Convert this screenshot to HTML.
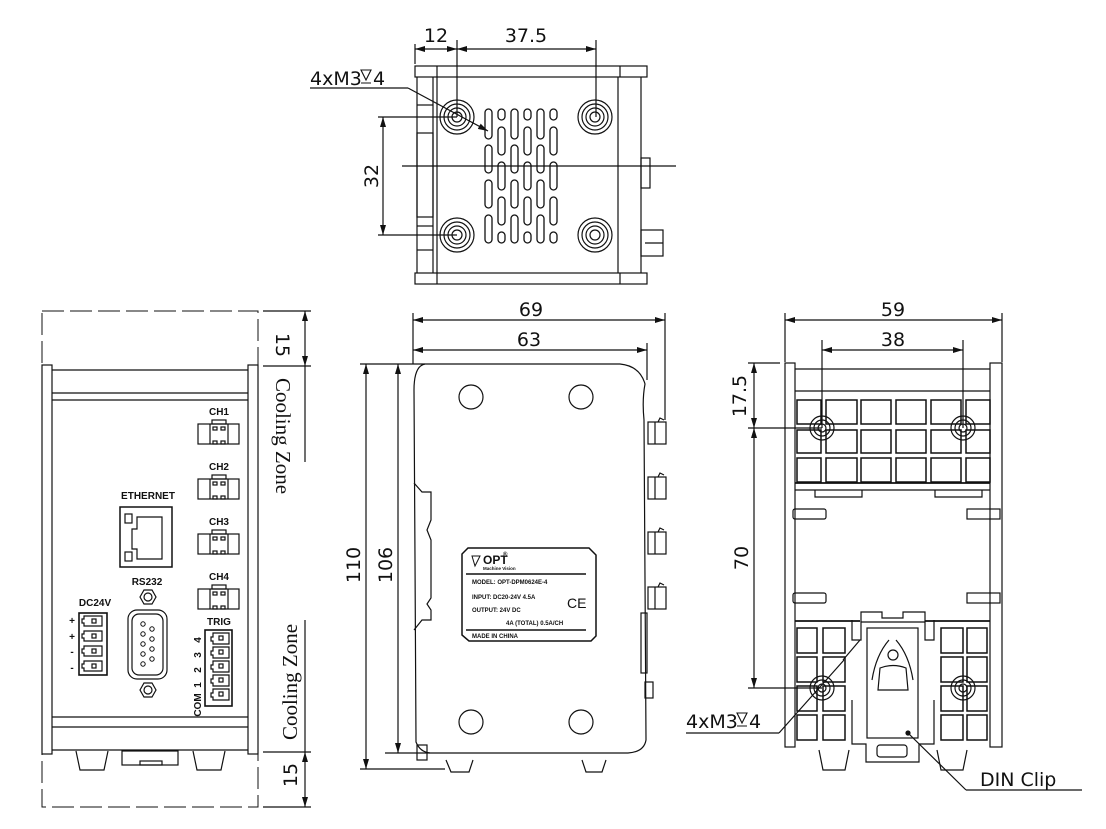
<!DOCTYPE html>
<html><head><meta charset="utf-8"><style>
html,body{margin:0;padding:0;background:#fff;width:1106px;height:829px;overflow:hidden}
svg{display:block}
.d{font-family:"DejaVu Sans","Liberation Sans",sans-serif;font-size:19px;fill:#111}
.s{font-family:"Liberation Sans",sans-serif;font-weight:bold;fill:#111}
.c{font-family:"Liberation Serif",serif;font-size:21px;fill:#111}
</style></head><body>
<svg width="1106" height="829" viewBox="0 0 1106 829" xmlns="http://www.w3.org/2000/svg" fill="none" stroke="#111" stroke-width="1.2">
<defs>
<marker id="a" viewBox="0 0 10 6" refX="10" refY="3" markerWidth="10" markerHeight="6" orient="auto-start-reverse" markerUnits="userSpaceOnUse"><path d="M0,0 L10,3 L0,6z" fill="#111" stroke="none"/></marker>
</defs>

<!-- ================= TOP VIEW ================= -->
<g>
<rect x="415" y="66" width="232" height="11" />
<rect x="415" y="273" width="232" height="11" />
<line x1="437" y1="66" x2="437" y2="77"/><line x1="620" y1="66" x2="620" y2="77"/>
<line x1="437" y1="273" x2="437" y2="284"/><line x1="620" y1="273" x2="620" y2="284"/>
<line x1="417" y1="77" x2="417" y2="273"/>
<line x1="433" y1="77" x2="433" y2="273"/>
<line x1="437" y1="77" x2="437" y2="273"/>
<line x1="618" y1="77" x2="618" y2="273"/>
<line x1="641" y1="77" x2="641" y2="273"/>
<rect x="417" y="133" width="16" height="84"/>
<line x1="417" y1="105" x2="433" y2="105"/><line x1="417" y1="226" x2="433" y2="226"/><line x1="417" y1="250" x2="433" y2="250"/>
<rect x="641" y="158" width="9" height="30"/>
<rect x="641" y="230" width="22" height="26"/><line x1="645" y1="243" x2="663" y2="243"/>
<g id="h"><circle cx="457" cy="117" r="17"/><circle cx="457" cy="117" r="13"/><circle cx="457" cy="117" r="9"/><circle cx="457" cy="117" r="5"/></g>
<use href="#h" x="138"/><use href="#h" y="118"/><use href="#h" x="138" y="118"/>
<g stroke-width="1.3">
<rect x="485" y="109" width="7" height="30" rx="3.5"/><rect x="485" y="145" width="7" height="28" rx="3.5"/><rect x="485" y="180" width="7" height="28" rx="3.5"/><rect x="485" y="215" width="7" height="28" rx="3.5"/>
<rect x="498" y="109" width="7" height="11" rx="3.5"/><rect x="498" y="127" width="7" height="28" rx="3.5"/><rect x="498" y="162" width="7" height="28" rx="3.5"/><rect x="498" y="197" width="7" height="28" rx="3.5"/><rect x="498" y="232" width="7" height="11" rx="3.5"/>
<rect x="511" y="109" width="7" height="30" rx="3.5"/><rect x="511" y="145" width="7" height="28" rx="3.5"/><rect x="511" y="180" width="7" height="28" rx="3.5"/><rect x="511" y="215" width="7" height="28" rx="3.5"/>
<rect x="524" y="109" width="7" height="11" rx="3.5"/><rect x="524" y="127" width="7" height="28" rx="3.5"/><rect x="524" y="162" width="7" height="28" rx="3.5"/><rect x="524" y="197" width="7" height="28" rx="3.5"/><rect x="524" y="232" width="7" height="11" rx="3.5"/>
<rect x="537" y="109" width="7" height="30" rx="3.5"/><rect x="537" y="145" width="7" height="28" rx="3.5"/><rect x="537" y="180" width="7" height="28" rx="3.5"/><rect x="537" y="215" width="7" height="28" rx="3.5"/>
<rect x="550" y="109" width="7" height="11" rx="3.5"/><rect x="550" y="127" width="7" height="28" rx="3.5"/><rect x="550" y="162" width="7" height="28" rx="3.5"/><rect x="550" y="197" width="7" height="28" rx="3.5"/><rect x="550" y="232" width="7" height="11" rx="3.5"/>
</g>
<line x1="402" y1="166" x2="676" y2="166"/>
<line x1="415" y1="44" x2="415" y2="64"/><line x1="457" y1="40" x2="457" y2="117"/><line x1="596" y1="40" x2="596" y2="117"/>
<line x1="415" y1="49" x2="457" y2="49" marker-start="url(#a)" marker-end="url(#a)"/>
<line x1="457" y1="49" x2="596" y2="49" marker-start="url(#a)" marker-end="url(#a)"/>
<text class="d" x="436" y="42" text-anchor="middle" stroke="none">12</text>
<text class="d" x="526" y="42" text-anchor="middle" stroke="none">37.5</text>
<line x1="378" y1="117" x2="457" y2="117"/><line x1="378" y1="235" x2="457" y2="235"/>
<line x1="383" y1="117" x2="383" y2="235" marker-start="url(#a)" marker-end="url(#a)"/>
<text class="d" transform="translate(378,176) rotate(-90)" text-anchor="middle" stroke="none">32</text>
<text class="d" x="310" y="85" stroke="none">4xM3</text>
<path d="M361,70 L371,70 L366,80z M361,83 L371,83" stroke-width="1.1"/>
<text class="d" x="373" y="85" stroke="none">4</text>
<line x1="310" y1="88" x2="408" y2="88"/><line x1="408" y1="88" x2="488" y2="131" marker-end="url(#a)"/>
</g>

<!-- ================= FRONT VIEW ================= -->
<g>
<rect x="42" y="311" width="216" height="496" stroke-dasharray="22,6" stroke-width="1"/>
<rect x="42" y="365" width="10" height="389" fill="#fff"/>
<rect x="248" y="365" width="10" height="389" fill="#fff"/>
<line x1="52" y1="370" x2="248" y2="370"/><line x1="52" y1="393" x2="248" y2="393"/><line x1="52" y1="400" x2="248" y2="400"/>
<line x1="52" y1="717" x2="248" y2="717"/><line x1="52" y1="727" x2="248" y2="727"/><line x1="52" y1="750" x2="248" y2="750"/>
<path d="M76,751 L80,770 L104,770 L108,751"/><path d="M193,751 L197,770 L221,770 L225,751"/>
<rect x="122" y="751" width="56" height="14"/><rect x="140" y="761" width="22" height="4"/>
<g id="ch"><rect x="198" y="424" width="41" height="20"/><line x1="210" y1="424" x2="210" y2="444"/><line x1="228" y1="424" x2="228" y2="444"/><rect x="212" y="420" width="14" height="4"/><rect x="213" y="427" width="4" height="3"/><rect x="221" y="427" width="4" height="3"/><rect x="213" y="441" width="4" height="3"/><rect x="221" y="441" width="4" height="3"/></g>
<use href="#ch" y="55"/><use href="#ch" y="110"/><use href="#ch" y="165"/>
<text class="s" x="219" y="415" font-size="10" text-anchor="middle" stroke="none">CH1</text>
<text class="s" x="219" y="470" font-size="10" text-anchor="middle" stroke="none">CH2</text>
<text class="s" x="219" y="525" font-size="10" text-anchor="middle" stroke="none">CH3</text>
<text class="s" x="219" y="580" font-size="10" text-anchor="middle" stroke="none">CH4</text>
<text class="s" x="148" y="499" font-size="10" text-anchor="middle" stroke="none">ETHERNET</text>
<rect x="120" y="507" width="52" height="60" stroke-width="1.5"/>
<path d="M137,517 L162,517 L162,559 L137,559 L137,549 L132,549 L132,529 L137,529z"/>
<rect x="125" y="514" width="7" height="9"/><rect x="125" y="552" width="7" height="9"/>
<text class="s" x="147" y="585" font-size="10" text-anchor="middle" stroke="none">RS232</text>
<polygon points="140,597 144,590 152,590 156,597 152,604 144,604"/><circle cx="148" cy="597" r="4"/>
<polygon points="140,690 144,683 152,683 156,690 152,697 144,697"/><circle cx="148" cy="690" r="4"/>
<rect x="128" y="610" width="39" height="69" rx="9"/><rect x="132" y="614" width="31" height="61" rx="7"/>
<g stroke-width="1"><circle cx="143" cy="624" r="2.2"/><circle cx="143" cy="634" r="2.2"/><circle cx="143" cy="644" r="2.2"/><circle cx="143" cy="654" r="2.2"/><circle cx="143" cy="664" r="2.2"/><circle cx="152" cy="629" r="2.2"/><circle cx="152" cy="639" r="2.2"/><circle cx="152" cy="649" r="2.2"/><circle cx="152" cy="659" r="2.2"/></g>
<text class="s" x="95" y="606" font-size="10" text-anchor="middle" stroke="none">DC24V</text>
<rect x="79" y="613" width="28" height="62" stroke-width="1.6"/>
<g id="pin"><path d="M84,616 L102,616 L102,626 L84,626 L84,623 L82,623 L82,619 L84,619z"/><rect x="92" y="619" width="4" height="4"/></g>
<use href="#pin" y="15"/><use href="#pin" y="30"/><use href="#pin" y="45"/>
<text class="s" x="72" y="624" font-size="10" text-anchor="middle" stroke="none">+</text>
<text class="s" x="72" y="640" font-size="10" text-anchor="middle" stroke="none">+</text>
<text class="s" x="72" y="655" font-size="10" text-anchor="middle" stroke="none">-</text>
<text class="s" x="72" y="671" font-size="10" text-anchor="middle" stroke="none">-</text>
<text class="s" x="219" y="625" font-size="10" text-anchor="middle" stroke="none">TRIG</text>
<rect x="205" y="630" width="27" height="76" stroke-width="1.6"/>
<g id="tp"><path d="M213,633 L229,633 L229,644 L213,644 L213,641 L211,641 L211,637 L213,637z"/><rect x="219" y="636" width="4" height="4"/></g>
<use href="#tp" y="14"/><use href="#tp" y="28"/><use href="#tp" y="42"/><use href="#tp" y="56"/>
<g class="s" font-size="10" stroke="none">
<text transform="translate(201,640) rotate(-90)" text-anchor="middle">4</text>
<text transform="translate(201,655) rotate(-90)" text-anchor="middle">3</text>
<text transform="translate(201,670) rotate(-90)" text-anchor="middle">2</text>
<text transform="translate(201,685) rotate(-90)" text-anchor="middle">1</text>
<text transform="translate(201,705) rotate(-90)" text-anchor="middle">COM</text>
</g>
<line x1="263" y1="311" x2="311" y2="311"/><line x1="263" y1="366" x2="311" y2="366"/>
<line x1="305" y1="311" x2="305" y2="366" marker-start="url(#a)" marker-end="url(#a)"/>
<line x1="305" y1="366" x2="305" y2="462"/>
<line x1="263" y1="752" x2="311" y2="752"/><line x1="263" y1="807" x2="311" y2="807"/>
<line x1="305" y1="752" x2="305" y2="807" marker-start="url(#a)" marker-end="url(#a)"/>
<line x1="305" y1="620" x2="305" y2="752"/>
<text class="d" transform="translate(276,345) rotate(90)" text-anchor="middle" stroke="none">15</text>
<text class="d" transform="translate(297,775) rotate(-90)" text-anchor="middle" stroke="none">15</text>
<text class="c" transform="translate(276,436) rotate(90)" text-anchor="middle" stroke="none">Cooling Zone</text>
<text class="c" transform="translate(297,682) rotate(-90)" text-anchor="middle" stroke="none">Cooling Zone</text>
</g>

<!-- ================= SIDE VIEW ================= -->
<g>
<path d="M425,364 L620,364 Q640,366 645,384 Q642,400 644,420 L646,740 Q644,752 628,753 L430,753 Q420,752 416,742 L415,560 L414,390 Q414,366 425,364z"/>
<path d="M414,483 L422,492 L431,492 L431,520 L427,530 L431,540 L431,598 L427,604 L431,610 L431,620 L422,620 L414,630"/>
<rect x="417" y="745" width="10" height="15"/>
<circle cx="471" cy="397" r="12"/><circle cx="581" cy="397" r="12"/><circle cx="471" cy="722" r="12"/><circle cx="581" cy="722" r="12"/>
<path d="M446,760 L451,772 L469,772 L473,760"/><path d="M582,760 L586,772 L602,772 L606,760"/>
<g id="rc"><rect x="648" y="422" width="18" height="22"/><line x1="655" y1="422" x2="655" y2="444"/><path d="M658,422 L660,418 L664,420"/></g>
<use href="#rc" y="55"/><use href="#rc" y="110"/><use href="#rc" y="165"/>
<rect x="641" y="613" width="6" height="60"/><rect x="645" y="682" width="8" height="16"/>
<path d="M468,548 L589,548 L596,555 L596,636 L591,641 L469,641 L462,635 L462,554z" stroke-width="1.5"/>
<line x1="466" y1="574" x2="586" y2="574" stroke-width="1.5"/><line x1="466" y1="630" x2="586" y2="630" stroke-width="1.5"/>
<path d="M472,556 L480,556 L475,566z" stroke-width="1"/>
<text class="s" x="483" y="564" font-size="12" stroke="none" font-weight="normal">OPT</text>
<text class="s" x="503" y="556" font-size="6" stroke="none">®</text>
<text class="s" x="483" y="570" font-size="4.5" stroke="none">Machine Vision</text>
<g class="s" font-size="6" stroke="none">
<text x="472" y="584">MODEL: OPT-DPM0624E-4</text>
<text x="472" y="599">INPUT: DC20-24V  4.5A</text>
<text x="472" y="612">OUTPUT: 24V DC</text>
<text x="506" y="625">4A (TOTAL)  0.5A/CH</text>
<text x="472" y="638">MADE IN CHINA</text>
</g>
<text x="567" y="608" font-family="Liberation Sans,sans-serif" font-size="14" fill="#111" stroke="none">CE</text>
<line x1="413" y1="313" x2="413" y2="364"/><line x1="665" y1="313" x2="665" y2="420"/><line x1="647" y1="343" x2="647" y2="380"/>
<line x1="413" y1="320" x2="665" y2="320" marker-start="url(#a)" marker-end="url(#a)"/>
<line x1="413" y1="350" x2="647" y2="350" marker-start="url(#a)" marker-end="url(#a)"/>
<text class="d" x="531" y="316" text-anchor="middle" stroke="none">69</text>
<text class="d" x="529" y="346" text-anchor="middle" stroke="none">63</text>
<line x1="360" y1="364" x2="425" y2="364"/><line x1="360" y1="769" x2="445" y2="769"/><line x1="385" y1="753" x2="430" y2="753"/>
<line x1="366" y1="364" x2="366" y2="769" marker-start="url(#a)" marker-end="url(#a)"/>
<line x1="398" y1="364" x2="398" y2="753" marker-start="url(#a)" marker-end="url(#a)"/>
<text class="d" transform="translate(360,565) rotate(-90)" text-anchor="middle" stroke="none">110</text>
<text class="d" transform="translate(392,565) rotate(-90)" text-anchor="middle" stroke="none">106</text>
</g>

<!-- ================= RIGHT VIEW ================= -->
<g>
<rect x="785" y="363" width="10" height="384"/><rect x="990" y="363" width="12" height="384"/>
<line x1="795" y1="369" x2="990" y2="369"/><line x1="795" y1="391" x2="990" y2="391"/>
<line x1="795" y1="483" x2="990" y2="483" stroke-width="1.8"/><line x1="795" y1="490" x2="990" y2="490"/>
<path d="M815,490 L815,497 L862,497 L862,490"/><path d="M935,490 L935,497 L982,497 L982,490"/>
<g stroke-width="1.5">
<rect x="797" y="400" width="24" height="24"/><rect x="826" y="400" width="31" height="24"/><rect x="861" y="400" width="30" height="24"/><rect x="896" y="400" width="30" height="24"/><rect x="931" y="400" width="30" height="24"/><rect x="966" y="400" width="24" height="24"/>
<rect x="797" y="430" width="24" height="23"/><rect x="826" y="430" width="31" height="23"/><rect x="861" y="430" width="30" height="23"/><rect x="896" y="430" width="30" height="23"/><rect x="931" y="430" width="30" height="23"/><rect x="966" y="430" width="24" height="23"/>
<rect x="797" y="458" width="24" height="24"/><rect x="826" y="458" width="31" height="24"/><rect x="861" y="458" width="30" height="24"/><rect x="896" y="458" width="30" height="24"/><rect x="931" y="458" width="30" height="24"/><rect x="966" y="458" width="24" height="24"/>
</g>
<rect x="793" y="509" width="33" height="10" rx="2"/><rect x="967" y="509" width="33" height="10"/>
<rect x="793" y="593" width="33" height="10" rx="2"/><rect x="967" y="593" width="33" height="10"/>
<line x1="795" y1="621" x2="860" y2="621" stroke-width="1.8"/><line x1="925" y1="621" x2="990" y2="621" stroke-width="1.8"/>
<g stroke-width="1.5">
<rect x="797" y="628" width="20" height="25"/><rect x="823" y="628" width="22" height="25"/>
<rect x="797" y="657" width="20" height="25"/><rect x="823" y="657" width="22" height="25"/>
<rect x="797" y="686" width="20" height="25"/><rect x="823" y="686" width="22" height="25"/>
<rect x="797" y="715" width="20" height="25"/><rect x="823" y="715" width="22" height="25"/>
<rect x="941" y="628" width="22" height="25"/><rect x="967" y="628" width="20" height="25"/>
<rect x="941" y="657" width="22" height="25"/><rect x="967" y="657" width="20" height="25"/>
<rect x="941" y="686" width="22" height="25"/><rect x="967" y="686" width="20" height="25"/>
<rect x="941" y="715" width="22" height="25"/><rect x="967" y="715" width="20" height="25"/>
</g>
<path d="M861,622 L861,612 L882,612 L882,618 L903,618 L903,612 L925,612 L925,622" fill="#fff"/>
<path d="M852,620 L852,640 L861,640 L861,622 L925,622 L925,640 L934,640 L934,620"/>
<path d="M852,700 L852,744 L866,744 L866,762 L919,762 L919,744 L934,744 L934,700"/>
<rect x="867" y="628" width="51" height="110"/>
<path d="M872,680 Q876,655 889,640 M913,680 Q909,655 896,640"/>
<circle cx="893" cy="655" r="5"/><path d="M878,690 L908,690 L906,668 Q893,663 880,668z"/>
<rect x="877" y="745" width="30" height="12" rx="3"/>
<circle cx="908" cy="733" r="2" fill="#111"/>
<path d="M819,750 L823,770 L845,770 L849,750"/><path d="M937,750 L941,770 L963,770 L967,750"/>
<g id="rh"><circle cx="822" cy="428" r="12"/><circle cx="822" cy="428" r="8"/><circle cx="822" cy="428" r="4"/></g>
<use href="#rh" x="141"/><use href="#rh" y="260"/><use href="#rh" x="141" y="260"/>
<line x1="785" y1="313" x2="785" y2="362"/><line x1="1002" y1="313" x2="1002" y2="362"/>
<line x1="785" y1="320" x2="1002" y2="320" marker-start="url(#a)" marker-end="url(#a)"/>
<line x1="822" y1="340" x2="822" y2="428"/><line x1="963" y1="340" x2="963" y2="428"/>
<line x1="822" y1="350" x2="963" y2="350" marker-start="url(#a)" marker-end="url(#a)"/>
<text class="d" x="893" y="316" text-anchor="middle" stroke="none">59</text>
<text class="d" x="893" y="346" text-anchor="middle" stroke="none">38</text>
<line x1="748" y1="363" x2="780" y2="363"/><line x1="748" y1="428" x2="822" y2="428"/><line x1="748" y1="688" x2="822" y2="688"/>
<line x1="754" y1="363" x2="754" y2="428" marker-start="url(#a)" marker-end="url(#a)"/>
<line x1="754" y1="428" x2="754" y2="688" marker-start="url(#a)" marker-end="url(#a)"/>
<text class="d" transform="translate(746,396) rotate(-90)" text-anchor="middle" stroke="none">17.5</text>
<text class="d" transform="translate(748,558) rotate(-90)" text-anchor="middle" stroke="none">70</text>
<text class="d" x="686" y="728" stroke="none">4xM3</text>
<path d="M737,713 L747,713 L742,723z M737,726 L747,726" stroke-width="1.1"/>
<text class="d" x="749" y="728" stroke="none">4</text>
<line x1="686" y1="733" x2="779" y2="733"/>
<line x1="779" y1="733" x2="844" y2="660"/>
<line x1="860" y1="640" x2="843" y2="660"/>
<line x1="908" y1="733" x2="966" y2="790"/><line x1="966" y1="790" x2="1082" y2="790"/>
<text class="d" x="980" y="786" font-size="22" stroke="none">DIN Clip</text>
</g>
</svg>
</body></html>
